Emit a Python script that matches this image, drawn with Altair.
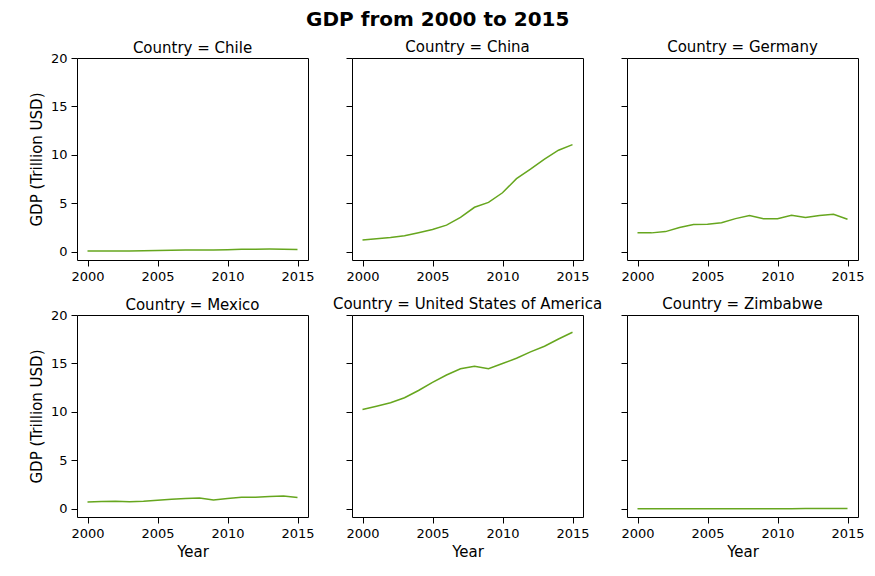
import altair as alt
import pandas as pd

# GDP by country, trillions of US dollars
years = list(range(2000, 2016))
countries = ["Chile", "China", "Germany", "Mexico", "United States of America", "Zimbabwe"]

chile = [0.078, 0.071, 0.070, 0.076, 0.099, 0.123, 0.154, 0.173, 0.180, 0.172, 0.218, 0.252, 0.267, 0.278, 0.261, 0.243]
china = [1.21, 1.34, 1.47, 1.66, 1.96, 2.29, 2.75, 3.55, 4.59, 5.10, 6.09, 7.55, 8.53, 9.57, 10.48, 11.06]
germany = [1.95, 1.95, 2.08, 2.50, 2.81, 2.85, 2.99, 3.42, 3.73, 3.41, 3.42, 3.76, 3.54, 3.75, 3.87, 3.36]
mexico = [0.71, 0.76, 0.77, 0.73, 0.78, 0.88, 0.99, 1.06, 1.11, 0.90, 1.06, 1.18, 1.20, 1.27, 1.31, 1.17]
usa = [10.25, 10.58, 10.94, 11.46, 12.21, 13.04, 13.81, 14.45, 14.71, 14.45, 14.99, 15.54, 16.20, 16.78, 17.52, 18.22]
zimbabwe = [0.0067, 0.0068, 0.0063, 0.0057, 0.0058, 0.0058, 0.0054, 0.0053, 0.0044, 0.0083, 0.0120, 0.0141, 0.0171, 0.0191, 0.0195, 0.0199]

series = [chile, china, germany, mexico, usa, zimbabwe]

rows = []
for country, values in zip(countries, series):
    for year, value in zip(years, values):
        rows.append({"Country": country, "Year": year, "GDP": value})
df = pd.DataFrame(rows)

FONT = "DejaVu Sans"
LINE_COLOR = "#66a61e"
W, H = 231, 202


def panel(country, idx):
    first_col = idx % 3 == 0
    bottom_row = idx >= 3
    x_axis = alt.Axis(
        values=[2000, 2005, 2010, 2015],
        format="d",
        title="Year" if bottom_row else None,
    )
    y_axis = alt.Axis(
        values=[0, 5, 10, 15, 20],
        labels=first_col,
        title="GDP (Trillion USD)" if first_col else None,
    )
    # the "20" label of the left column pokes above the frame; push its title
    # back down so all panel titles in a row share one baseline
    title = alt.TitleParams(f"Country = {country}", dy=6.5 if first_col else 0)
    return (
        alt.Chart(df, title=title)
        .transform_filter(alt.datum.Country == country)
        .mark_line(color=LINE_COLOR, strokeWidth=1.5)
        .encode(
            x=alt.X("Year:Q", scale=alt.Scale(domain=[1999.25, 2015.75], nice=False, zero=False), axis=x_axis),
            y=alt.Y("GDP:Q", scale=alt.Scale(domain=[-0.85, 20], nice=False, zero=False), axis=y_axis),
        )
        .properties(width=W, height=H)
    )


chart = (
    alt.concat(
        *[panel(c, i) for i, c in enumerate(countries)],
        columns=3,
        spacing={"row": 55, "column": 44},
        bounds="flush",
    )
    .properties(
        title=alt.TitleParams(
            "GDP from 2000 to 2015",
            font=FONT,
            fontSize=20,
            fontWeight="bold",
            color="black",
            anchor="middle",
            dx=-9,
            offset=9,
        ),
        padding={"left": 28, "top": 10, "right": 10, "bottom": 10},
        background="white",
    )
    .configure_view(stroke="black", strokeWidth=1)
    .configure_axis(
        grid=False,
        domain=False,
        labelFont=FONT,
        labelFontSize=13,
        labelColor="black",
        labelPadding=4,
        tickColor="black",
        tickSize=6,
        tickWidth=1,
        titleFont=FONT,
        titleFontSize=15,
        titleFontWeight="normal",
        titleColor="black",
    )
    .configure_axisY(titlePadding=6)
    .configure_title(font=FONT, fontSize=15, fontWeight="normal", color="black", offset=3)
)

chart.save("out.html", embed_options={"renderer": "svg", "actions": False})
